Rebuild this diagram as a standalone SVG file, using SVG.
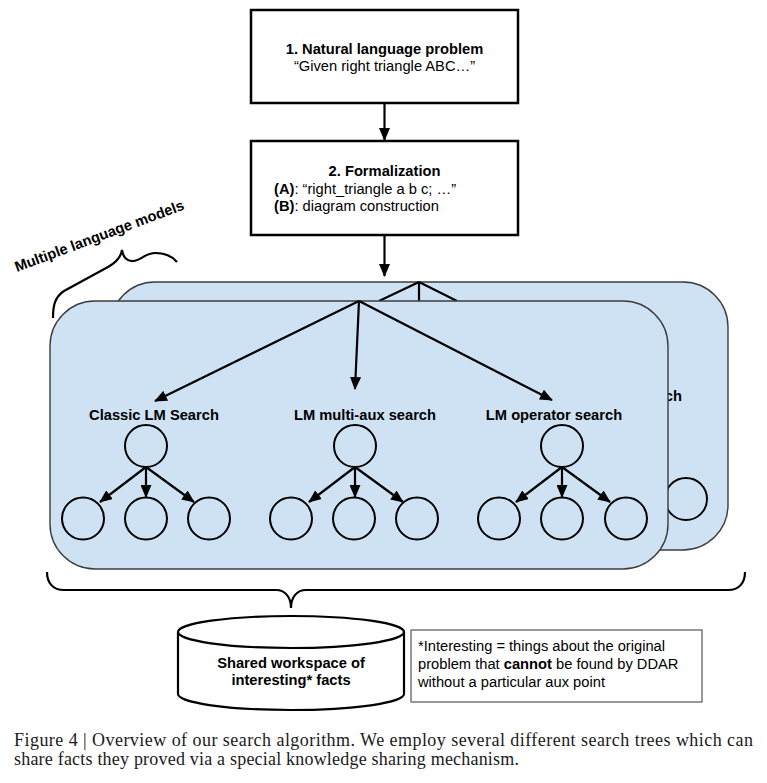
<svg xmlns="http://www.w3.org/2000/svg" width="767" height="783" viewBox="0 0 767 783">
<style>
.t{font-family:"Liberation Sans",Arial,sans-serif;font-size:14.7px;fill:#000}
.b{font-weight:bold}
.box{fill:#fff;stroke:#000;stroke-width:2.5}
.panel{fill:#cfe2f3;stroke:#3c3c3c;stroke-width:1.4}
.c{fill:none;stroke:#000;stroke-width:2}
.ln{fill:none;stroke:#000;stroke-width:2.2}
.arr{fill:none;stroke:#000;stroke-width:2.2;marker-end:url(#ah)}
.cap{font-family:"Liberation Serif","Times New Roman",serif;font-size:18px;fill:#1a1a1a}
</style>
<defs>
<marker id="ah" viewBox="0 0 14 12" refX="13" refY="6" markerWidth="13" markerHeight="11" markerUnits="userSpaceOnUse" orient="auto">
<path d="M0,0 L14,6 L0,12 z" fill="#000"/>
</marker>
</defs>
<rect width="767" height="783" fill="#fff"/>

<g id="back-panel">
<rect class="panel" x="110" y="282" width="618" height="268" rx="45" ry="45"/>
<path class="ln" d="M419,282 L379,301 M419,282 L419,301 M419,282 L457,301"/>
<text class="t b" x="682" y="401" text-anchor="end">ch</text>
<circle class="c" cx="686" cy="499" r="21"/>
</g>

<g id="front-panel">
<rect class="panel" x="50" y="301" width="618" height="268" rx="45" ry="45"/>
</g>

<g id="node-problem">
<rect class="box" x="251" y="10" width="267" height="93"/>
<text class="t b" x="384.5" y="54" text-anchor="middle">1. Natural language problem</text>
<text class="t" x="384.5" y="71" text-anchor="middle">“Given right triangle ABC…”</text>
</g>

<g id="node-formalization">
<rect class="box" x="251" y="141" width="267" height="94"/>
<text class="t b" x="384.5" y="176" text-anchor="middle">2. Formalization</text>
<text class="t" x="274" y="194"><tspan class="b">(A)</tspan>: “right_triangle a b c; …”</text>
<text class="t" x="274" y="211"><tspan class="b">(B)</tspan>: diagram construction</text>
</g>

<g id="label-classic"><text class="t b" x="154" y="420" text-anchor="middle">Classic LM Search</text></g>
<g id="label-multiaux"><text class="t b" x="365" y="420" text-anchor="middle">LM multi-aux search</text></g>
<g id="label-operator"><text class="t b" x="554" y="420" text-anchor="middle">LM operator search</text></g>

<g id="tree-classic">
<circle class="c" cx="146" cy="446" r="21"/>
<circle class="c" cx="83" cy="518.5" r="21"/>
<circle class="c" cx="146" cy="518.5" r="21"/>
<circle class="c" cx="209" cy="518.5" r="21"/>
</g>
<g id="tree-multiaux">
<circle class="c" cx="355" cy="446" r="21"/>
<circle class="c" cx="291" cy="518.5" r="21"/>
<circle class="c" cx="354" cy="518.5" r="21"/>
<circle class="c" cx="417" cy="518.5" r="21"/>
</g>
<g id="tree-operator">
<circle class="c" cx="562" cy="446" r="21"/>
<circle class="c" cx="499" cy="518.5" r="21"/>
<circle class="c" cx="562" cy="518.5" r="21"/>
<circle class="c" cx="626" cy="518.5" r="21"/>
</g>

<g id="connectors">
<line class="arr" x1="384.5" y1="103" x2="384.5" y2="140"/>
<line class="arr" x1="384.5" y1="235" x2="384.5" y2="276"/>
<line class="arr" x1="359" y1="301" x2="155" y2="401"/>
<line class="arr" x1="359" y1="301" x2="355" y2="389"/>
<line class="arr" x1="359" y1="301" x2="552" y2="400"/>
<line class="arr" x1="146" y1="467" x2="100" y2="502"/>
<line class="arr" x1="146" y1="467" x2="146" y2="497"/>
<line class="arr" x1="146" y1="467" x2="194" y2="502"/>
<line class="arr" x1="355" y1="467" x2="309" y2="502"/>
<line class="arr" x1="355" y1="467" x2="355" y2="497"/>
<line class="arr" x1="355" y1="467" x2="403" y2="502"/>
<line class="arr" x1="562" y1="467" x2="516" y2="502"/>
<line class="arr" x1="562" y1="467" x2="562" y2="497"/>
<line class="arr" x1="562" y1="467" x2="610" y2="502"/>
</g>

<g id="brace-models">
<path class="ln" d="M53,318 C53,305 55,297 64,291 L108,267 C117,262 121,257 122,250 C123,257 127,262 134,261 C141,260 146,253 155,253 C165,253 172,256 177,262"/>
<text class="t b" transform="translate(17,272) rotate(-20.5)" x="0" y="0">Multiple language models</text>
</g>

<g id="brace-bottom">
<path class="ln" d="M47,572 C47,583 53,590 64,590 L276,590 C285,590 291,597 291,608 C291,597 297,590 306,590 L728,590 C739,590 745,583 745,572"/>
</g>

<g id="node-workspace">
<path d="M178,632 A113,16 0 0 1 404,632 L404,694 A113,16 0 0 1 178,694 Z" fill="#fff" stroke="#000" stroke-width="2.2"/>
<path d="M178,632 A113,16 0 0 0 404,632" fill="none" stroke="#000" stroke-width="2.2"/>
<text class="t b" x="291" y="668" text-anchor="middle">Shared workspace of</text>
<text class="t b" x="291" y="685" text-anchor="middle">interesting* facts</text>
</g>

<g id="node-note">
<rect x="411" y="630" width="291" height="72" fill="#fff" stroke="#555" stroke-width="1.2"/>
<text class="t" x="418" y="651">*Interesting = things about the original</text>
<text class="t" x="418" y="669">problem that <tspan class="b">cannot</tspan> be found by DDAR</text>
<text class="t" x="418" y="687">without a particular aux point</text>
</g>

<g id="caption">
<text class="cap" x="14" y="746" textLength="739" lengthAdjust="spacing">Figure 4 | Overview of our search algorithm. We employ several different search trees which can</text>
<text class="cap" x="14" y="765" textLength="505" lengthAdjust="spacing">share facts they proved via a special knowledge sharing mechanism.</text>
</g>
</svg>
